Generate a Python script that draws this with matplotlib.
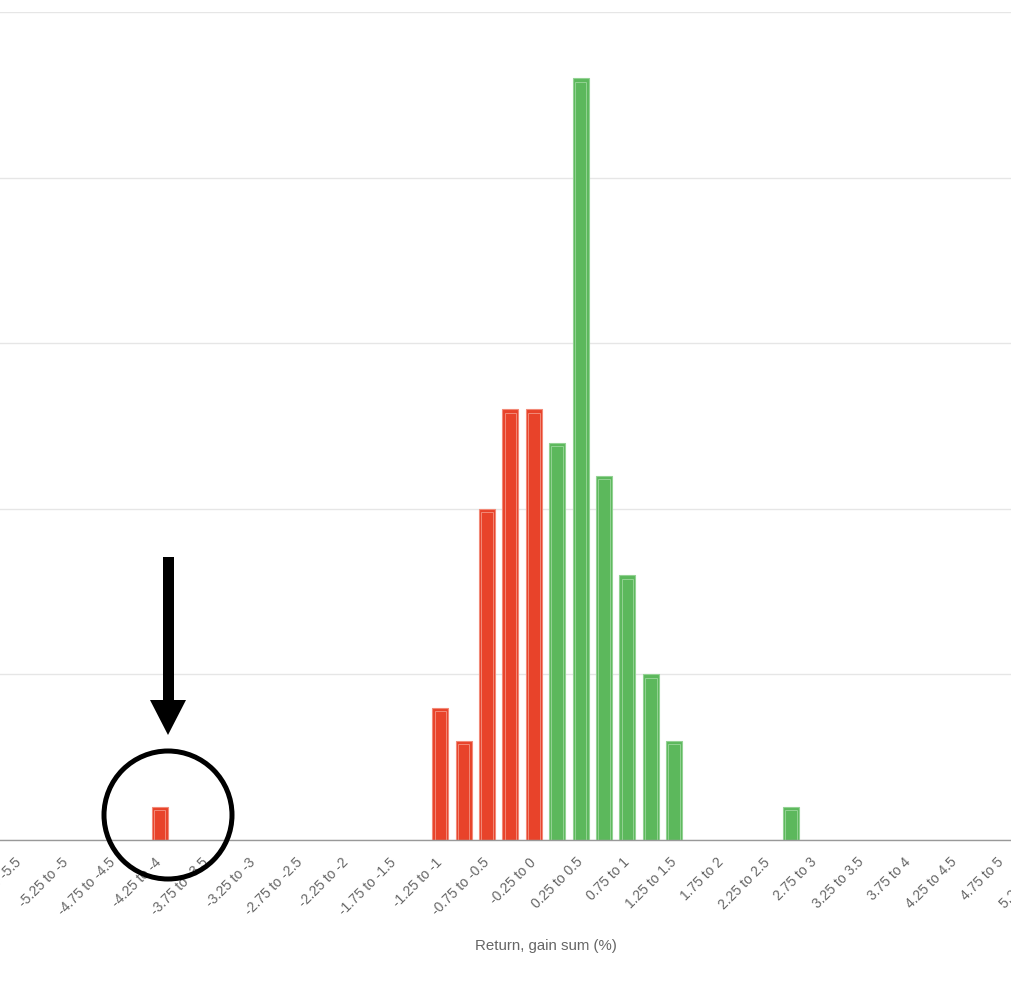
import matplotlib
matplotlib.use("Agg")
import matplotlib.pyplot as plt
from matplotlib.patches import Circle, Polygon
import numpy as np

# ---- data ----
lower_bounds = [-6 + 0.25 * i for i in range(48)]


def fmt(v):
    s = ("%.2f" % v).rstrip("0").rstrip(".")
    if s == "-0":
        s = "0"
    return s


categories = ["%s to %s" % (fmt(a), fmt(a + 0.25)) for a in lower_bounds]

bar_labels = ["-4.25 to -4", "-1.25 to -1", "-1 to -0.75", "-0.75 to -0.5",
              "-0.5 to -0.25", "-0.25 to 0", "0 to 0.25", "0.25 to 0.5",
              "0.5 to 0.75", "0.75 to 1", "1 to 1.25", "1.25 to 1.5",
              "2.5 to 2.75"]
bar_counts = [1, 4, 3, 10, 13, 13, 12, 23, 11, 8, 5, 3, 1]

counts = [0] * len(categories)
for lab, c in zip(bar_labels, bar_counts):
    counts[categories.index(lab)] = c

RED = "#e8432a"
GREEN = "#5cb85c"
RED_EDGE = "#f28a78"
GREEN_EDGE = "#93d293"

W, H = 1011, 990
fig = plt.figure(figsize=(W / 100, H / 100), dpi=100)
plt.rcParams['font.family'] = ['Liberation Sans', 'DejaVu Sans']

left_px, right_px = -15.9, 1107.0
top_px, bottom_px = 12.0, 840.0
ax = fig.add_axes([left_px / W, (H - bottom_px) / H,
                   (right_px - left_px) / W, (bottom_px - top_px) / H])

x = np.arange(len(categories))
vals = np.array(counts, dtype=float)
colors = [RED if lb < 0 else GREEN for lb in lower_bounds]
edges = [RED_EDGE if lb < 0 else GREEN_EDGE for lb in lower_bounds]

mask = vals > 0
bw = 0.684
ax.bar(x[mask], vals[mask], width=bw, color=np.array(colors)[mask],
       edgecolor=np.array(edges)[mask], linewidth=0.8, zorder=3)
# inner highlight stroke
px_unit_x = (right_px - left_px) / len(categories)
px_unit_y = (bottom_px - top_px) / 25.0
inset_w = bw - 4.5 / px_unit_x
inset_h = vals[mask] - 3.5 / px_unit_y
ax.bar(x[mask], inset_h, width=inset_w, bottom=0, facecolor='none',
       edgecolor=np.array(edges)[mask], linewidth=0.7, zorder=4)

ax.set_xlim(-0.5, len(categories) - 0.5)
ax.set_ylim(0, 25)
ax.set_yticks([0, 5, 10, 15, 20, 25])
ax.yaxis.grid(True, color="#e6e6e6", linewidth=1.0, zorder=0)
ax.set_axisbelow(True)
ax.tick_params(axis='y', left=False, labelleft=False)

for s in ['top', 'right', 'left']:
    ax.spines[s].set_visible(False)
ax.spines['bottom'].set_color('#999999')
ax.spines['bottom'].set_linewidth(1.0)
ax.spines['bottom'].set_zorder(5)

tick_idx = x[1::2]
ax.set_xticks(tick_idx)
ax.set_xticklabels([categories[i] for i in tick_idx], rotation=45,
                   ha='right', va='center', rotation_mode='anchor',
                   fontsize=10, color='#666666')
ax.tick_params(axis='x', length=0, pad=14.5)

ax.set_xlabel("Return, gain sum (%)", fontsize=10.8, color='#666666',
              labelpad=15)

# ---- annotation: arrow and circle (pixel coordinates) ----
tr = fig.dpi_scale_trans


def P(px, py):
    return (px / 100.0, (H - py) / 100.0)


circ = Circle(P(168, 815), 0.64, transform=tr, fill=False,
              edgecolor='black', linewidth=3.6, zorder=10)
fig.patches.append(circ)

shaft = Polygon([P(162.5, 557), P(174, 557), P(174, 701), P(162.5, 701)],
                closed=True, transform=tr, facecolor='black',
                edgecolor='none', zorder=10)
head = Polygon([P(150, 700), P(186, 700), P(168, 735)], closed=True,
               transform=tr, facecolor='black', edgecolor='none', zorder=10)
fig.patches.append(shaft)
fig.patches.append(head)

fig.savefig("out.png", dpi=100, facecolor='white')
